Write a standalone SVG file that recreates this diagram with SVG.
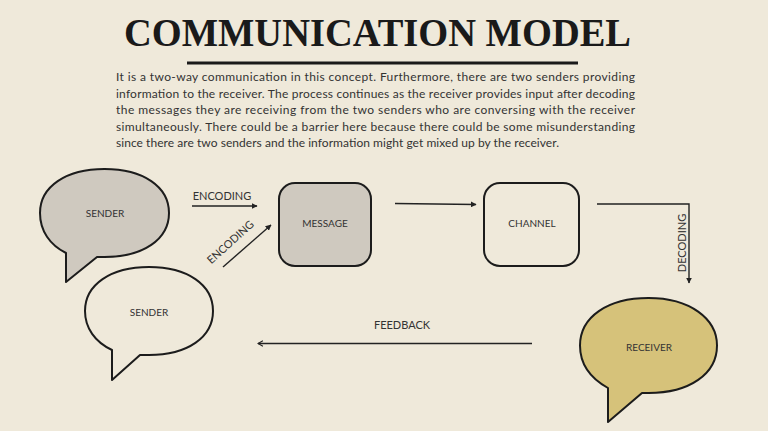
<svg xmlns="http://www.w3.org/2000/svg" width="768" height="431" viewBox="0 0 768 431">
<style>
.bg{fill:#EFE9DA}
.shape{stroke:#1c1c1c;stroke-width:2;stroke-linejoin:round}
.grey{fill:#CFC9BF}
.plain{fill:#EFE9DA}
.gold{fill:#D6C27A}
.lbl{font-family:Lato,"Open Sans",sans-serif;font-size:10px;fill:#333;text-anchor:middle}
.elbl{font-family:Lato,"Open Sans",sans-serif;font-size:11px;fill:#333;text-anchor:middle}
.para{font-family:Lato,"Open Sans",sans-serif;font-size:12px;fill:#333}
.title{font-family:"Liberation Serif","DejaVu Serif",serif;font-weight:bold;font-size:41px;fill:#1a1a1a}
.conn{fill:none;stroke:#222;stroke-width:1.4}
</style>
<defs>
<marker id="ah" viewBox="0 0 10 10" refX="9" refY="5" markerWidth="6" markerHeight="6" orient="auto" markerUnits="userSpaceOnUse">
<path d="M0,0 L10,5 L0,10 Z" fill="#222"/>
</marker>
<marker id="chev" viewBox="0 0 10 10" refX="9" refY="5" markerWidth="7" markerHeight="7" orient="auto" markerUnits="userSpaceOnUse">
<path d="M2,1 L9,5 L2,9" fill="none" stroke="#222" stroke-width="1.6"/>
</marker>
</defs>
<rect class="bg" x="0" y="0" width="768" height="431"/>

<g id="title">
<text class="title" x="124" y="46" textLength="507" lengthAdjust="spacingAndGlyphs">COMMUNICATION MODEL</text>
<line x1="187" y1="63" x2="578" y2="63" stroke="#1a1a1a" stroke-width="3"/>
</g>

<g id="description" class="para">
<text x="116" y="81" textLength="519" lengthAdjust="spacing">It is a two-way communication in this concept. Furthermore, there are two senders providing</text>
<text x="116" y="97.5" textLength="519" lengthAdjust="spacing">information to the receiver. The process continues as the receiver provides input after decoding</text>
<text x="116" y="114" textLength="519" lengthAdjust="spacing">the messages they are receiving from the two senders who are conversing with the receiver</text>
<text x="116" y="130.5" textLength="519" lengthAdjust="spacing">simultaneously. There could be a barrier here because there could be some misunderstanding</text>
<text x="116" y="147" textLength="443" lengthAdjust="spacing">since there are two senders and the information might get mixed up by the receiver.</text>
</g>

<g id="sender1">
<path class="shape grey" d="M104.5,169 C143.2,169 169,186.6 169,213 C169,239.4 143.2,257 104.5,257 L97,257 L66,282 L66,253 C50,245 40,231 40,213 C40,186.6 65.8,169 104.5,169 Z"/>
<text class="lbl" x="105" y="216.5">SENDER</text>
</g>

<g id="sender2">
<path class="shape plain" d="M149,267 C187.4,267 213,284.6 213,311 C213,337.4 187.4,355 149,355 L140,355 L112,380 L112,350 C95,342 85,328 85,311 C85,284.6 110.6,267 149,267 Z"/>
<text class="lbl" x="149" y="315.5">SENDER</text>
</g>

<g id="message">
<rect class="shape grey" x="279" y="183" width="92" height="83" rx="16"/>
<text class="lbl" x="325" y="227">MESSAGE</text>
</g>

<g id="channel">
<rect class="shape plain" x="484" y="183" width="95" height="83" rx="16"/>
<text class="lbl" x="532" y="227">CHANNEL</text>
</g>

<g id="receiver">
<path class="shape gold" d="M648.5,298 C689.6,298 717,318.5 717,345.5 C717,374 689.6,393 648.5,393 L642,393 L608,422 L608,388 C590,378 580,363 580,345.5 C580,317 607.4,298 648.5,298 Z"/>
<text class="lbl" x="649" y="350.5">RECEIVER</text>
</g>

<g id="connectors">
<line class="conn" x1="192" y1="206" x2="257" y2="206" marker-end="url(#ah)"/>
<line class="conn" x1="223" y1="267" x2="271" y2="225" marker-end="url(#ah)"/>
<line class="conn" x1="395" y1="203.5" x2="476" y2="204.5" marker-end="url(#ah)"/>
<polyline class="conn" points="597,204 689,204 689,283" marker-end="url(#ah)"/>
<line class="conn" x1="532" y1="343.5" x2="258" y2="343.5" marker-end="url(#chev)"/>
<text class="elbl" x="222" y="200">ENCODING</text>
<text class="elbl" x="0" y="0" transform="translate(233,245) rotate(-42)">ENCODING</text>
<text class="elbl" x="0" y="0" transform="translate(686,243) rotate(-90)">DECODING</text>
<text class="elbl" x="402" y="329">FEEDBACK</text>
</g>
</svg>
